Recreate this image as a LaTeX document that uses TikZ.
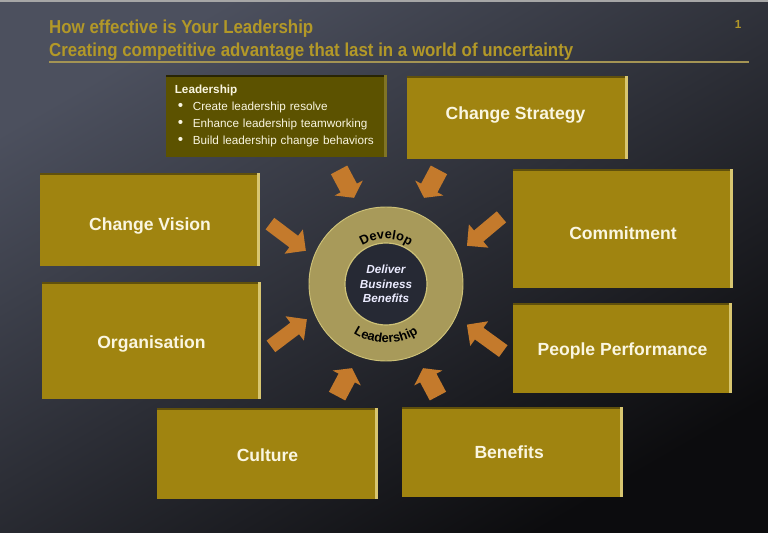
\documentclass[tikz,border=0pt]{standalone}
\usepackage{fontspec}
\setmainfont{Liberation Sans}
\newfontfamily\titlefont[FakeStretch=0.9]{Liberation Sans}
\usetikzlibrary{shapes.arrows,decorations.text}

\definecolor{bgul}{RGB}{76,80,94}
\definecolor{bgmid}{RGB}{40,43,54}
\definecolor{bglr}{RGB}{12,12,14}
\definecolor{panelgold}{RGB}{160,132,16}
\definecolor{panellight}{RGB}{216,198,112}
\definecolor{paneldark}{RGB}{96,80,12}
\definecolor{leadfill}{RGB}{92,82,0}
\definecolor{leadlight}{RGB}{128,116,36}
\definecolor{leaddark}{RGB}{40,36,4}
\definecolor{titlegold}{RGB}{178,152,40}
\definecolor{rulegold}{RGB}{164,148,84}
\definecolor{ringgold}{RGB}{168,154,90}
\definecolor{ringedge}{RGB}{206,194,120}
\definecolor{ringhole}{RGB}{38,41,52}
\definecolor{arroworange}{RGB}{196,122,44}
\definecolor{cream}{RGB}{250,246,225}

\newcommand{\leaditem}[1]{\hspace*{0.09cm}\makebox[0.45cm][l]{\scalebox{1.3}{\textbullet}}#1}

\tikzset{
  bevel/.style 2 args={path picture={
    \fill[#1] ([xshift=-0.09cm]path picture bounding box.north east) rectangle (path picture bounding box.south east);
    \fill[#2] ([yshift=-0.06cm]path picture bounding box.north west) rectangle ([xshift=-0.09cm]path picture bounding box.north east);
  }},
  panel/.style={fill=panelgold, bevel={panellight}{paneldark}},
  paneltext/.style={text=cream, font=\fontsize{15}{18}\selectfont\bfseries},
  leadpanel/.style={fill=leadfill, bevel={leadlight}{leaddark}, text=cream,
    font=\fontsize{10}{14.5}\selectfont, text width=6.1cm, align=left},
  sidearrow/.style={single arrow, fill=arroworange, inner xsep=0pt, inner ysep=0.21cm,
    single arrow head extend=0.24cm, minimum height=1.35cm},
  stubarrow/.style={single arrow, fill=arroworange, inner xsep=0pt, inner ysep=0.27cm,
    single arrow head extend=0.2cm, single arrow tip angle=110, minimum height=0.95cm},
  ringtext/.style={decoration={text along path, text align=center, text={#1}}, decorate}
}

\begin{document}
\begin{tikzpicture}[x=0.03cm, y=0.03cm]
\useasboundingbox (0,0) rectangle (768,532);
% Dark slide background, lighter at the top left
\shade[top color=bgul, middle color=bgmid, bottom color=bglr, shading angle=30] (0,0) rectangle (768,532);
\fill[gray!70] (0,530) rectangle (768,532);
% Titles with the rule under them
\node[anchor=base west, inner sep=0pt, text=titlegold, font=\titlefont\fontsize{16}{19}\selectfont\bfseries] (title) at (49,498) {How effective is Your Leadership};
\node[anchor=base west, inner sep=0pt, text=titlegold, font=\titlefont\fontsize{16}{19}\selectfont\bfseries] (subtitle) at (49,475) {Creating competitive advantage that last in a world of uncertainty};
\coordinate (rulel) at (49,470);
\coordinate (ruler) at (749,470);
\draw[rulegold, line width=1.4pt] (rulel) -- (ruler);
% Page number
\node[anchor=base, text=titlegold, font=\fontsize{10}{12}\selectfont\bfseries] (pagenum) at (738,503) {1};
% Leadership box with bullet list
\node[leadpanel, minimum width=6.63cm, minimum height=2.46cm] (lead) at (276.5,416) {\textbf{Leadership}\\
\leaditem{Create leadership resolve}\\
\leaditem{Enhance leadership teamworking}\\
\leaditem{Build leadership change behaviors}};
% Gold boxes round the ring
\node[panel, minimum width=6.63cm, minimum height=2.49cm] (strategy) at (517.5,414.5) {};
\node[panel, minimum width=6.6cm, minimum height=2.79cm] (vision) at (150,312.5) {};
\node[panel, minimum width=6.6cm, minimum height=3.57cm] (commit) at (623,303.5) {};
\node[panel, minimum width=6.57cm, minimum height=3.51cm] (organ) at (151.5,191.5) {};
\node[panel, minimum width=6.57cm, minimum height=2.7cm] (people) at (622.5,184) {};
\node[panel, minimum width=6.63cm, minimum height=2.73cm] (culture) at (267.5,78.5) {};
\node[panel, minimum width=6.63cm, minimum height=2.7cm] (benefits) at (512.5,80) {};
% Box labels, a little off centre as in the slide
\node[paneltext] (strategytext) at ([xshift=-0.06cm, yshift=0.09cm]strategy.center) {Change Strategy};
\node[paneltext] (visiontext) at ([yshift=-0.2cm]vision.center) {Change Vision};
\node[paneltext] (committext) at ([yshift=-0.15cm]commit.center) {Commitment};
\node[paneltext] (organtext) at ([yshift=-0.1cm]organ.center) {Organisation};
\node[paneltext] (peopletext) at ([yshift=-0.1cm]people.center) {People Performance};
\node[paneltext] (culturetext) at ([yshift=-0.05cm]culture.center) {Culture};
\node[paneltext] (benefitstext) at ([xshift=-0.1cm]benefits.center) {Benefits};
% Ring in the middle
\node[circle, fill=ringgold, draw=ringedge, line width=0.8pt, minimum size=4.62cm] (ring) at (386,248) {};
\node[circle, fill=ringhole, draw=ringedge, line width=1pt, minimum size=2.46cm, text=white!92!blue,
  align=center, font=\fontsize{10}{12.4}\selectfont\bfseries\itshape] (core) at (ring) {Deliver\\Business\\Benefits};
% Words bent round the ring
\path[ringtext={|\fontsize{11}{13}\selectfont\bfseries|Develop}] ([shift={(150:45)}]ring.center) arc[start angle=150, end angle=30, radius=45];
\path[ringtext={|\fontsize{11}{13}\selectfont\bfseries|Leadership}] ([shift={(205:59)}]ring.center) arc[start angle=205, end angle=335, radius=59];
% Block arrows pointing in at the ring
\node[stubarrow, rotate=-62] (arr1) at (345,351) {};
\node[stubarrow, rotate=-118] (arr2) at (433,351) {};
\node[sidearrow, rotate=-37] (arr3) at (285,297) {};
\node[sidearrow, rotate=-140] (arr4) at (487,303) {};
\node[sidearrow, rotate=37] (arr5) at (286,197) {};
\node[sidearrow, rotate=144] (arr6) at (488,192) {};
\node[stubarrow, rotate=62] (arr7) at (343,147) {};
\node[stubarrow, rotate=118] (arr8) at (432,147) {};
\end{tikzpicture}
\end{document}
